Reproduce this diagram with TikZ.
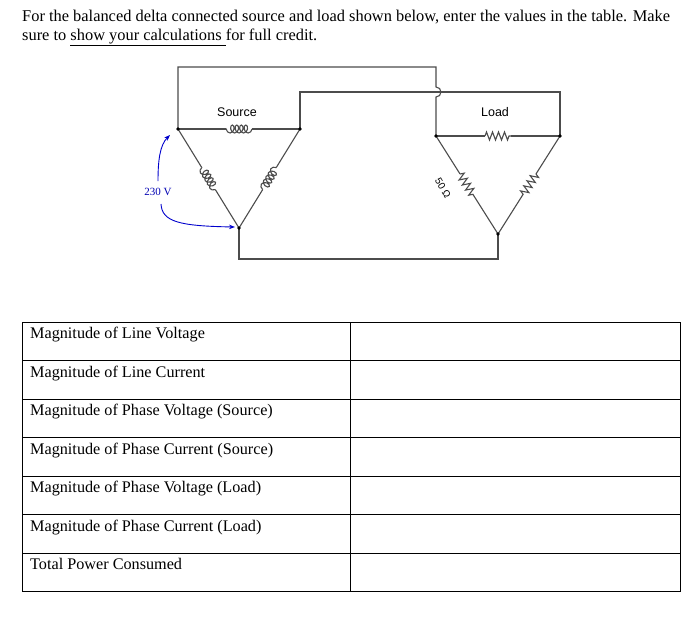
\documentclass[tikz,border=0pt]{standalone}
\usepackage{fontspec}
\setmainfont{Liberation Serif}
\newfontfamily\lsans{Liberation Sans}
\usetikzlibrary{calc,decorations.pathmorphing,arrows.meta}
\begin{document}
\begin{tikzpicture}[x=1pt,y=-1pt,
  wire/.style={line width=1.1pt,black!70},
  dotn/.style={circle,fill=black,inner sep=1.4pt},
  lbl/.style={font=\lsans\fontsize{12.5}{14}\selectfont,inner sep=0},
  hdr/.style={font=\fontsize{16.4}{18}\selectfont,anchor=base west,inner sep=0},
  cell/.style={font=\fontsize{16.2}{18}\selectfont,anchor=base west,inner sep=0},
  coilp/.style={decorate,decoration={coil,amplitude=4pt,segment length=4.5pt,aspect=0.7}},
  resp/.style={decorate,decoration={zigzag,amplitude=4pt,segment length=6pt}},
  blue arrow/.style={blue!80!black,line width=0.9pt,-{Stealth[length=6pt]}}]
\useasboundingbox (0,0) rectangle (700,630);
% header
\node[hdr] (h1) at (22,21) {For the balanced delta connected source and load shown below, enter the values in the table. Make};
\node[hdr] (h2) at (22,40) {sure to \underline{show your calculations }for full credit.};
% vertices
\coordinate (SL) at (178,129);
\coordinate (SR) at (300,129);
\coordinate (SB) at (239,228);
\coordinate (LL) at (436,136);
\coordinate (LR) at (560,136);
\coordinate (LB) at (498,234);
% elements
\newcommand{\elem}[3]{%
  \draw[wire] (#1) -- ($($(#1)!.5!(#2)$)!13pt!(#1)$);
  \draw[wire,#3] ($($(#1)!.5!(#2)$)!13pt!(#1)$) -- ($($(#1)!.5!(#2)$)!13pt!(#2)$);
  \draw[wire] ($($(#1)!.5!(#2)$)!13pt!(#2)$) -- (#2);}
\elem{SR}{SL}{coilp}
\elem{SB}{SL}{coilp}
\elem{SB}{SR}{coilp}
\elem{LL}{LR}{resp}
\elem{LL}{LB}{resp}
\elem{LR}{LB}{resp}
% wires
\draw[wire] (SL) -- (178,67) -- (436,67) -- (436,87) arc[start angle=-90,end angle=90,radius=5] -- (LL);
\draw[wire] (SR) -- (300,92) -- (560,92) -- (LR);
\draw[wire] (SB) -- (239,259) -- (498,259) -- (LB);
\foreach \p in {SL,SR,SB,LL,LR,LB} \node[dotn] at (\p) {};
% labels
\node[lbl] (src) at (237,112) {Source};
\node[lbl] (lod) at (495,112) {Load};
\node[font=\fontsize{11}{13}\selectfont,text=blue!70!black,inner sep=0] (v) at (158,192) {230 V};
\node[lbl,font=\lsans\fontsize{10}{12}\selectfont,rotate=-60] (r) at (443,188) {50 Ω};
\draw[blue arrow] (158,181) .. controls (158,160) and (160,145) .. (170,135);
\draw[blue arrow] (161,204) .. controls (162,222) and (180,226) .. (235,227);
% table
\draw[line width=0.6pt] (22,322) rectangle (680,591);
\draw[line width=0.6pt] (350,322) -- (350,591);
\foreach \y in {360,399,437,476,514,553} \draw[line width=0.6pt] (22,\y) -- (680,\y);
\node[cell] (t1) at (30,338) {Magnitude of Line Voltage};
\node[cell] (t2) at (30,377) {Magnitude of Line Current};
\node[cell] (t3) at (30,415) {Magnitude of Phase Voltage (Source)};
\node[cell] (t4) at (30,454) {Magnitude of Phase Current (Source)};
\node[cell] (t5) at (30,492) {Magnitude of Phase Voltage (Load)};
\node[cell] (t6) at (30,531) {Magnitude of Phase Current (Load)};
\node[cell] (t7) at (30,569) {Total Power Consumed};
\end{tikzpicture}
\end{document}
